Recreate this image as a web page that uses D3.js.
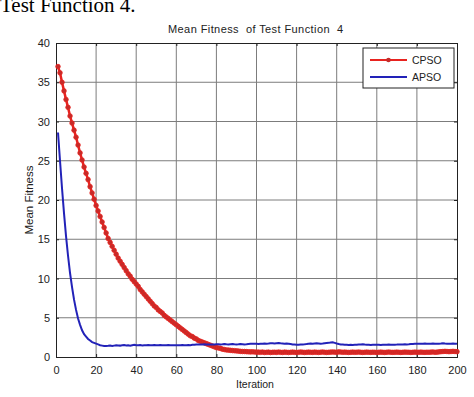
<!DOCTYPE html>
<html>
<head>
<meta charset="utf-8">
<script src="https://cdn.jsdelivr.net/npm/d3@7"></script>
<style>
body { margin: 0; background: #fff; }
text { font-family: "Liberation Sans", Arial, sans-serif; }
</style>
</head>
<body>
<div id="container"></div>
<script>
var scene_width = 474
var scene_height = 397

// iterations 1..200
var cpso = [
 37.0, 36.2, 35.0, 33.9, 32.8, 31.8, 30.7, 29.8, 28.9, 28.0, 27.0, 26.0, 25.1, 24.2, 23.4, 22.6, 21.7, 20.9, 20.1, 19.3,
 18.6, 17.9, 17.2, 16.5, 15.8, 15.1, 14.6, 14.1, 13.6, 13.1, 12.6, 12.2, 11.8, 11.4, 11.0, 10.6, 10.3, 9.9, 9.6, 9.3,
 9.0, 8.6, 8.3, 8.0, 7.7, 7.4, 7.1, 6.8, 6.5, 6.3, 6.0, 5.8, 5.6, 5.3, 5.1, 4.9, 4.7, 4.5, 4.3, 4.1,
 3.9, 3.7, 3.5, 3.3, 3.1, 2.9, 2.7, 2.6, 2.4, 2.3, 2.1, 2.0, 1.9, 1.8, 1.7, 1.6, 1.5, 1.4, 1.3, 1.2,
 1.15, 1.1, 1.0, 0.95, 0.9, 0.88, 0.85, 0.82, 0.8, 0.78, 0.75, 0.72, 0.7, 0.7, 0.68, 0.66, 0.65, 0.66, 0.64, 0.62,
 0.62, 0.6, 0.63, 0.58, 0.6, 0.62, 0.57, 0.6, 0.61, 0.59, 0.63, 0.6, 0.58, 0.62, 0.6, 0.57, 0.6, 0.62, 0.6, 0.58,
 0.6, 0.63, 0.61, 0.58, 0.6, 0.62, 0.6, 0.59, 0.62, 0.6, 0.58, 0.61, 0.63, 0.6, 0.58, 0.6, 0.62, 0.64, 0.62, 0.6,
 0.65, 0.63, 0.6, 0.62, 0.6, 0.58, 0.6, 0.62, 0.6, 0.61, 0.63, 0.6, 0.58, 0.6, 0.62, 0.6, 0.59, 0.61, 0.6, 0.58,
 0.6, 0.62, 0.6, 0.58, 0.61, 0.63, 0.6, 0.59, 0.6, 0.62, 0.6, 0.58, 0.6, 0.62, 0.61, 0.6, 0.58, 0.6, 0.62, 0.6,
 0.6, 0.62, 0.6, 0.59, 0.61, 0.6, 0.62, 0.64, 0.6, 0.62, 0.65, 0.68, 0.7, 0.72, 0.7, 0.68, 0.7, 0.72, 0.7, 0.68
]

var apso = [
 28.6, 25.0, 21.5, 18.3, 15.4, 12.9, 10.7, 8.9, 7.3, 6.0, 4.9, 4.1, 3.4, 2.9, 2.6, 2.3, 2.1, 1.9, 1.8, 1.7,
 1.6, 1.5, 1.45, 1.4, 1.4, 1.42, 1.45, 1.4, 1.45, 1.5, 1.48, 1.45, 1.5, 1.52, 1.48, 1.5, 1.45, 1.5, 1.55, 1.5,
 1.5, 1.52, 1.48, 1.5, 1.5, 1.52, 1.5, 1.5, 1.53, 1.5, 1.5, 1.52, 1.5, 1.5, 1.5, 1.52, 1.5, 1.5, 1.5, 1.5,
 1.5, 1.5, 1.52, 1.5, 1.5, 1.52, 1.5, 1.55, 1.55, 1.6, 1.6, 1.58, 1.6, 1.62, 1.6, 1.6, 1.58, 1.6, 1.6, 1.62,
 1.62, 1.6, 1.62, 1.65, 1.62, 1.6, 1.63, 1.65, 1.62, 1.6, 1.62, 1.65, 1.63, 1.6, 1.62, 1.65, 1.68, 1.7, 1.68, 1.7,
 1.65, 1.68, 1.7, 1.72, 1.7, 1.72, 1.75, 1.74, 1.72, 1.75, 1.78, 1.74, 1.72, 1.7, 1.72, 1.7, 1.65, 1.6, 1.58, 1.55,
 1.55, 1.58, 1.6, 1.62, 1.65, 1.7, 1.72, 1.7, 1.72, 1.74, 1.72, 1.7, 1.72, 1.75, 1.78, 1.8, 1.85, 1.88, 1.8, 1.72,
 1.65, 1.6, 1.58, 1.55, 1.55, 1.52, 1.55, 1.53, 1.55, 1.55, 1.58, 1.6, 1.62, 1.58, 1.55, 1.55, 1.53, 1.55, 1.56, 1.55,
 1.55, 1.53, 1.55, 1.56, 1.55, 1.58, 1.56, 1.55, 1.57, 1.58, 1.6, 1.58, 1.6, 1.62, 1.6, 1.62, 1.65, 1.66, 1.68, 1.7,
 1.7, 1.68, 1.7, 1.72, 1.7, 1.68, 1.7, 1.72, 1.7, 1.68, 1.7, 1.72, 1.75, 1.72, 1.7, 1.68, 1.7, 1.72, 1.7, 1.68
]

var xTicks = [0, 20, 40, 60, 80, 100, 120, 140, 160, 180, 200]
var yTicks = [0, 5, 10, 15, 20, 25, 30, 35, 40]
var seriesNames = ['CPSO', 'APSO']
var seriesColors = ['#e8231f', '#2222b8']

var plotLeft = 56, plotRight = 457, plotTop = 43, plotBottom = 357

var svg = d3.select('#container').append('svg')
    .attr('width', scene_width)
    .attr('height', scene_height)

var x = d3.scaleLinear().domain([0, 200]).range([plotLeft, plotRight])
var y = d3.scaleLinear().domain([0, 40]).range([plotBottom, plotTop])

// caption text from the paper, cut at the top
svg.append('text')
    .attr('x', 0)
    .attr('y', 12)
    .style('font-family', '"Liberation Serif", "Times New Roman", serif')
    .style('font-size', '21px')
    .text('Test Function 4.')

svg.append('text')
    .attr('x', 168)
    .attr('y', 33)
    .attr('textLength', 175)
    .attr('lengthAdjust', 'spacing')
    .style('font-size', '11px')
    .style('fill', '#222')
    .style('white-space', 'pre')
    .text('Mean Fitness  of Test Function  4')

// grid
svg.append('g').selectAll('line')
    .data(xTicks.slice(1, -1))
    .enter().append('line')
    .attr('x1', d => x(d)).attr('x2', d => x(d))
    .attr('y1', plotTop).attr('y2', plotBottom)
    .style('stroke', '#7c7c7c')
    .style('stroke-width', 1)

svg.append('g').selectAll('line')
    .data(yTicks.slice(1, -1))
    .enter().append('line')
    .attr('x1', plotLeft).attr('x2', plotRight)
    .attr('y1', d => y(d)).attr('y2', d => y(d))
    .style('stroke', '#7c7c7c')
    .style('stroke-width', 1)

// axes, ticks pointing inward like matlab
svg.append('g')
    .attr('transform', 'translate(0,' + plotBottom + ')')
    .call(d3.axisBottom(x).tickValues(xTicks).tickSize(-3).tickPadding(9))
svg.append('g')
    .attr('transform', 'translate(' + plotLeft + ',0)')
    .call(d3.axisLeft(y).tickValues(yTicks).tickSize(-3).tickPadding(6))
svg.append('g')
    .attr('transform', 'translate(0,' + plotTop + ')')
    .call(d3.axisTop(x).tickValues(xTicks).tickSize(-3).tickFormat(''))
svg.append('g')
    .attr('transform', 'translate(' + plotRight + ',0)')
    .call(d3.axisRight(y).tickValues(yTicks).tickSize(-3).tickFormat(''))

svg.selectAll('.domain').style('stroke', '#222')
svg.selectAll('.tick line').style('stroke', '#222')
svg.selectAll('.tick text')
    .style('font-family', '"Liberation Sans", Arial, sans-serif')
    .style('font-size', '11px')
    .style('fill', '#222')

svg.append('text')
    .attr('x', 255)
    .attr('y', 388)
    .attr('text-anchor', 'middle')
    .style('font-size', '10.5px')
    .style('fill', '#222')
    .text('Iteration')

svg.append('text')
    .attr('transform', 'translate(33,200) rotate(-90)')
    .attr('text-anchor', 'middle')
    .style('font-size', '11.5px')
    .style('fill', '#222')
    .text('Mean Fitness')

var line = d3.line()
    .x((d, i) => x(i + 1))
    .y(d => y(d))

svg.append('path')
    .datum(cpso)
    .attr('d', line)
    .style('fill', 'none')
    .style('stroke', seriesColors[0])
    .style('stroke-width', 2.5)

svg.append('g').selectAll('circle')
    .data(cpso)
    .enter().append('circle')
    .attr('cx', (d, i) => x(i + 1))
    .attr('cy', d => y(d))
    .attr('r', 2.3)
    .style('fill', '#c42c2a')
    .style('stroke', seriesColors[0])
    .style('stroke-width', 0.8)

svg.append('path')
    .datum(apso)
    .attr('d', line)
    .style('fill', 'none')
    .style('stroke', seriesColors[1])
    .style('stroke-width', 2)

// legend
var lg = svg.append('g').attr('transform', 'translate(363,48)')
lg.append('rect')
    .attr('width', 91)
    .attr('height', 40)
    .style('fill', '#fff')
    .style('stroke', '#222')
    .style('stroke-width', 1)

seriesNames.forEach(function(name, i) {
    var ly = 12 + i * 17
    lg.append('line')
        .attr('x1', 7).attr('x2', 44)
        .attr('y1', ly).attr('y2', ly)
        .style('stroke', seriesColors[i])
        .style('stroke-width', 2)
    if (i == 0) {
        lg.append('circle')
            .attr('cx', 25.5).attr('cy', ly).attr('r', 2.3)
            .style('fill', '#c42c2a')
    }
    lg.append('text')
        .attr('x', 49)
        .attr('y', ly + 3.5)
        .style('font-size', '10.5px')
        .style('fill', '#222')
        .text(name)
})
</script>
</body>
</html>
